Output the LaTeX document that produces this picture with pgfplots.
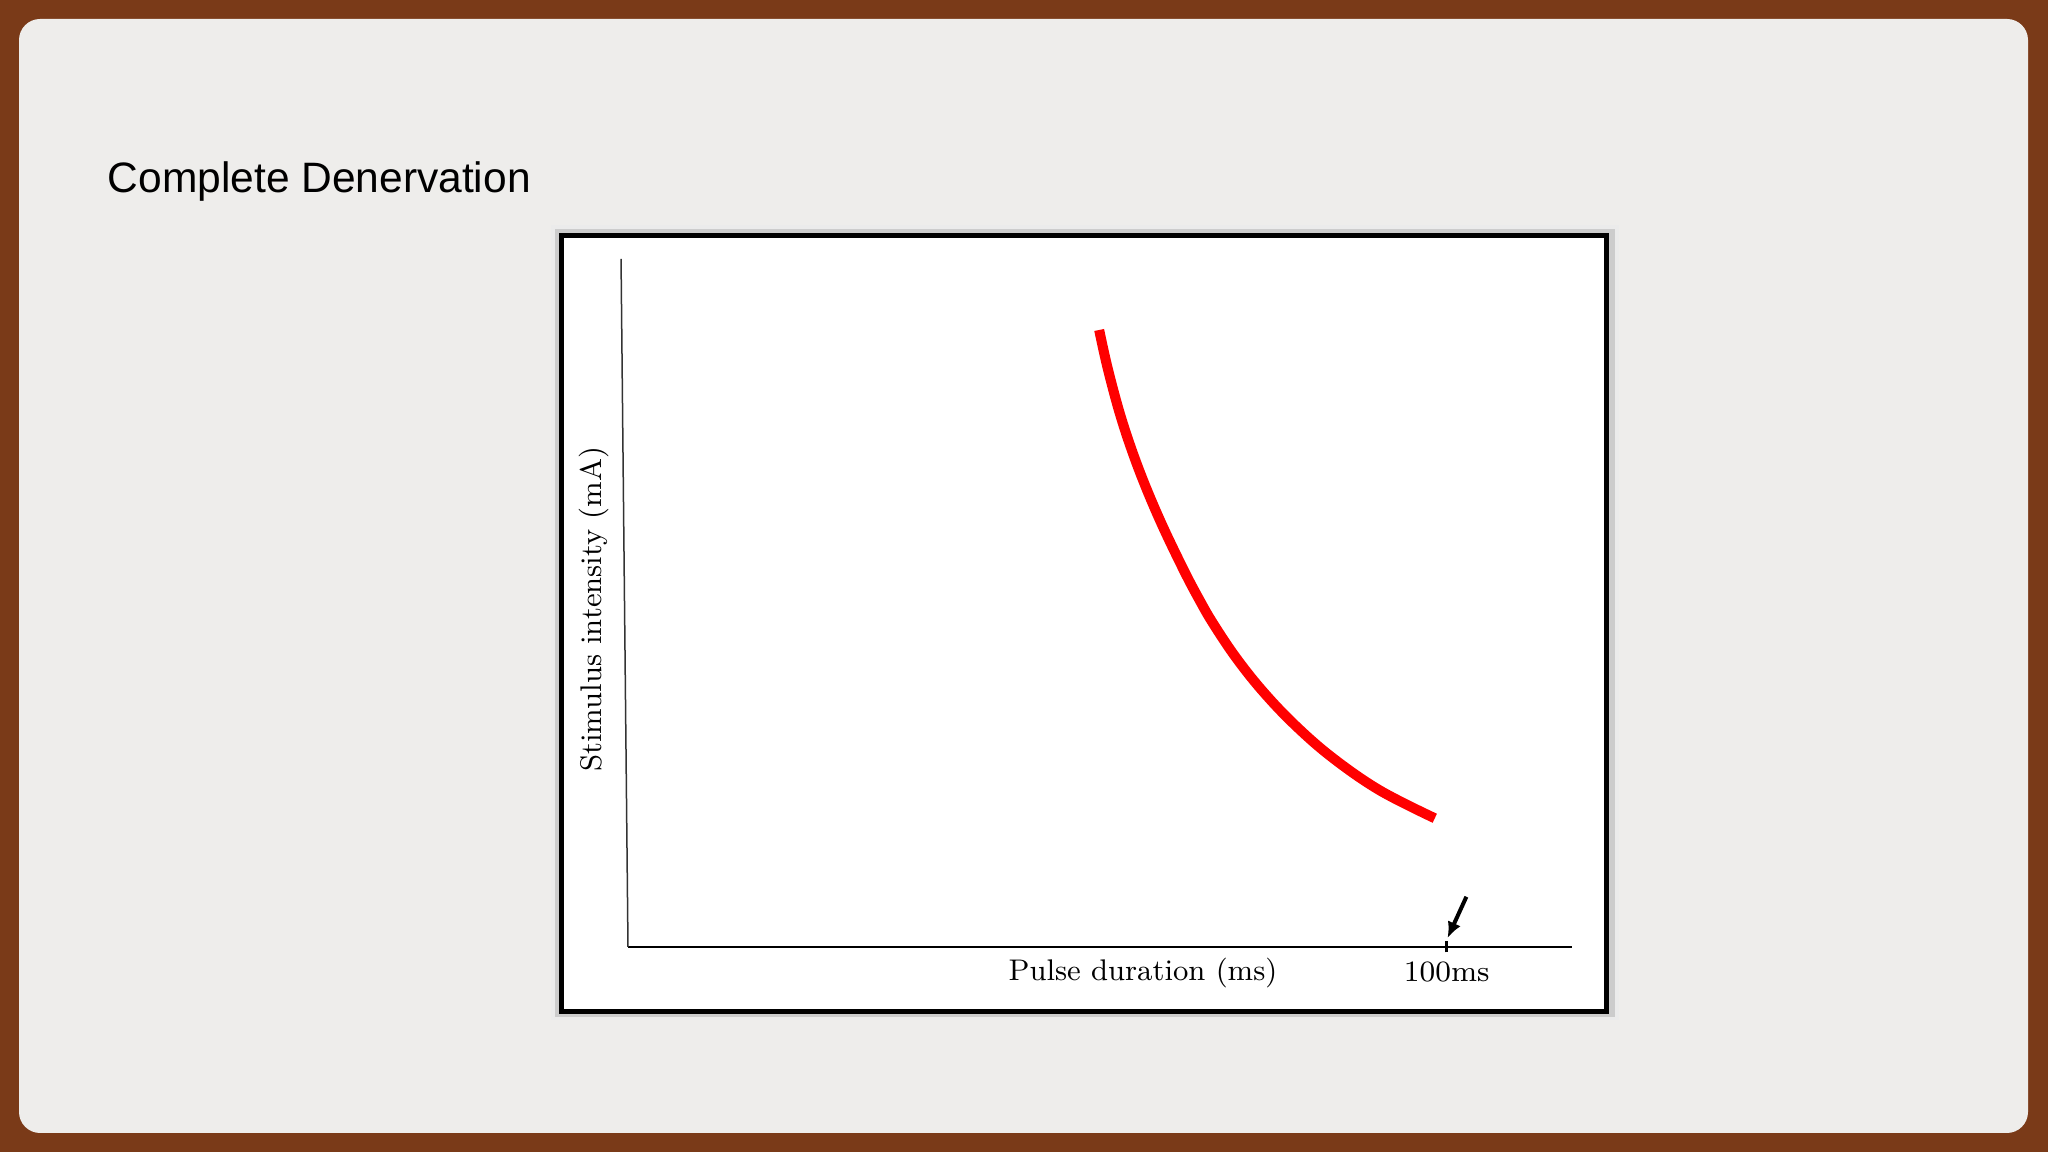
\documentclass[border=0pt]{standalone}
\usepackage{pgfplots}
\pgfplotsset{compat=1.18}
\usepackage{fontspec}
\newfontfamily\titlefont{Liberation Sans}
\usetikzlibrary{arrows.meta}
\definecolor{brownborder}{HTML}{7A3A18}
\definecolor{slidebg}{HTML}{EEEDEB}
\definecolor{redcurve}{HTML}{FF0000}
\begin{document}
\begin{tikzpicture}[x=0.1mm,y=0.1mm]
% background (pixel units, y measured from bottom)
\fill[brownborder] (0,0) rectangle (2048,1152);
\fill[slidebg, rounded corners=6] (19,19) rectangle (2028,1133);
% title
\node[anchor=base west, inner sep=0pt, font=\titlefont\fontsize{12.1}{14}\selectfont] at (107,959) {Complete Denervation};
% frame with shadow
\fill[black!8] (551,132) rectangle (1619,927);
\fill[black!20] (555,135) rectangle (1615,923);
\fill[white] (561.5,140) rectangle (1606,916.5);
\draw[black, line width=0.5mm] (561.5,140) rectangle (1606,916.5);
\begin{axis}[
  at={(62.8mm,20.5mm)}, anchor=south west,
  scale only axis, width=94.4mm, height=68.8mm,
  xmin=0, xmax=115.3, ymin=0, ymax=100,
  axis x line=bottom, axis y line=none,
  x axis line style={-, line width=0.2mm, black},
  xtick={100}, xticklabels={100ms},
  ytick=\empty,
  major tick length=1.1mm, tick align=center,
  x tick style={line width=0.3mm, black},
  x tick label style={font=\fontsize{8.4}{10}\selectfont, yshift=0.3mm},
  clip=false,
]
\addplot[black!80, line width=0.15mm] coordinates {(0,0) (-0.85,100)};
\addplot[redcurve, line width=1mm, smooth, tension=0.6] coordinates {
(57.55,89.68) (58.64,83.87) (60.31,76.60) (62.42,69.33) (64.96,62.06)
(67.87,54.80) (69.80,50.44) (71.45,47.05) (74.18,42.19) (77.40,37.35)
(81.24,32.51) (85.88,27.66) (91.74,22.82) (98.54,18.71)
};
\draw[-{Latex[length=1.6mm,width=1.4mm]}, line width=0.4mm, black] (axis cs:102.4,7.3) -- (axis cs:100.1,1.3);
\node[font=\fontsize{8.5}{10}\selectfont] at (axis cs:62.9,-3.8) {Pulse duration (ms)};
\node[font=\fontsize{8.5}{10}\selectfont, rotate=90] at (axis cs:-4.15,49.1) {Stimulus intensity (mA)};
\end{axis}
\end{tikzpicture}
\end{document}
